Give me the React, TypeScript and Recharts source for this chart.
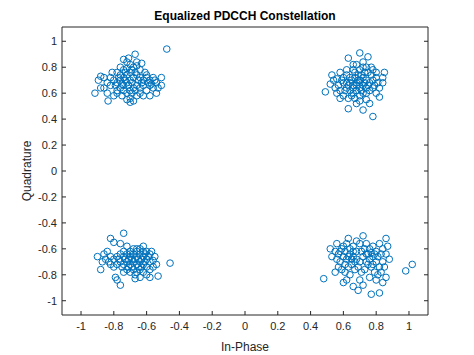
import { ScatterChart, Scatter, XAxis, YAxis } from 'recharts'

const xTicks = [-1, -0.8, -0.6, -0.4, -0.2, 0, 0.2, 0.4, 0.6, 0.8, 1]
const yTicks = [-1, -0.8, -0.6, -0.4, -0.2, 0, 0.2, 0.4, 0.6, 0.8, 1]

// symbols, [in-phase, quadrature]
const topLeft = [
  [-0.477, 0.94], [-0.915, 0.6], [-0.894, 0.7], [-0.86, 0.72], [-0.88, 0.64], [-0.84, 0.6], [-0.835, 0.54],
  [-0.8, 0.58], [-0.78, 0.62], [-0.82, 0.66], [-0.8, 0.7], [-0.78, 0.76], [-0.76, 0.8], [-0.74, 0.78],
  [-0.72, 0.84], [-0.71, 0.87], [-0.67, 0.9], [-0.66, 0.84], [-0.63, 0.83], [-0.64, 0.78], [-0.68, 0.8],
  [-0.7, 0.76], [-0.72, 0.74], [-0.74, 0.72], [-0.76, 0.7], [-0.78, 0.68], [-0.74, 0.66], [-0.72, 0.68],
  [-0.7, 0.7], [-0.68, 0.72], [-0.66, 0.74], [-0.64, 0.72], [-0.62, 0.7], [-0.6, 0.74], [-0.58, 0.7],
  [-0.56, 0.72], [-0.54, 0.68], [-0.51, 0.72], [-0.51, 0.66], [-0.54, 0.6], [-0.56, 0.64], [-0.58, 0.66],
  [-0.6, 0.62], [-0.62, 0.66], [-0.64, 0.64], [-0.66, 0.66], [-0.68, 0.64], [-0.7, 0.62], [-0.72, 0.6],
  [-0.74, 0.62], [-0.76, 0.64], [-0.7, 0.56], [-0.7, 0.53], [-0.68, 0.54], [-0.72, 0.55], [-0.66, 0.58],
  [-0.62, 0.58], [-0.64, 0.6], [-0.75, 0.58], [-0.79, 0.66], [-0.82, 0.72], [-0.84, 0.68], [-0.76, 0.74],
  [-0.73, 0.76], [-0.69, 0.78], [-0.67, 0.76], [-0.65, 0.7], [-0.63, 0.68], [-0.61, 0.76], [-0.59, 0.68],
  [-0.57, 0.67], [-0.69, 0.68], [-0.71, 0.66], [-0.73, 0.7], [-0.75, 0.67], [-0.77, 0.72], [-0.67, 0.62],
  [-0.69, 0.6], [-0.6, 0.72], [-0.55, 0.7], [-0.53, 0.64], [-0.58, 0.58], [-0.72, 0.79], [-0.66, 0.81],
  [-0.7, 0.82], [-0.78, 0.6], [-0.86, 0.64], [-0.88, 0.73], [-0.81, 0.76], [-0.74, 0.86],
]

const topRight = [
  [0.78, 0.42], [0.63, 0.48], [0.72, 0.47], [0.68, 0.52], [0.76, 0.52], [0.74, 0.55], [0.49, 0.61],
  [0.53, 0.74], [0.52, 0.67], [0.55, 0.64], [0.56, 0.71], [0.58, 0.76], [0.6, 0.72], [0.58, 0.62],
  [0.6, 0.58], [0.62, 0.64], [0.62, 0.68], [0.64, 0.72], [0.63, 0.87], [0.7, 0.91], [0.75, 0.88],
  [0.72, 0.84], [0.68, 0.82], [0.66, 0.78], [0.7, 0.78], [0.74, 0.8], [0.78, 0.78], [0.8, 0.76],
  [0.85, 0.76], [0.84, 0.72], [0.84, 0.68], [0.82, 0.64], [0.82, 0.57], [0.8, 0.6], [0.78, 0.64],
  [0.76, 0.68], [0.74, 0.7], [0.72, 0.72], [0.7, 0.7], [0.68, 0.68], [0.66, 0.66], [0.64, 0.62],
  [0.66, 0.6], [0.68, 0.62], [0.7, 0.64], [0.72, 0.66], [0.74, 0.64], [0.76, 0.62], [0.78, 0.7],
  [0.8, 0.72], [0.77, 0.74], [0.75, 0.76], [0.73, 0.76], [0.71, 0.74], [0.69, 0.74], [0.67, 0.72],
  [0.65, 0.7], [0.63, 0.66], [0.61, 0.62], [0.65, 0.58], [0.67, 0.56], [0.7, 0.58], [0.72, 0.6],
  [0.74, 0.6], [0.7, 0.68], [0.68, 0.66], [0.66, 0.64], [0.64, 0.68], [0.62, 0.74], [0.6, 0.68],
  [0.57, 0.66], [0.54, 0.7], [0.56, 0.6], [0.71, 0.62], [0.73, 0.68], [0.75, 0.66], [0.69, 0.7],
  [0.67, 0.76], [0.79, 0.66], [0.81, 0.68], [0.77, 0.8], [0.72, 0.8], [0.66, 0.82], [0.62, 0.78],
  [0.59, 0.7], [0.7, 0.54], [0.63, 0.56], [0.58, 0.56],
]

const bottomLeft = [
  [-0.457, -0.71], [-0.74, -0.48], [-0.82, -0.52], [-0.8, -0.55], [-0.76, -0.56], [-0.72, -0.58],
  [-0.7, -0.62], [-0.66, -0.6], [-0.64, -0.6], [-0.6, -0.62], [-0.58, -0.64], [-0.62, -0.58],
  [-0.9, -0.66], [-0.88, -0.76], [-0.86, -0.64], [-0.84, -0.62], [-0.85, -0.68], [-0.82, -0.66],
  [-0.8, -0.68], [-0.78, -0.66], [-0.76, -0.64], [-0.74, -0.66], [-0.72, -0.64], [-0.7, -0.66],
  [-0.68, -0.64], [-0.66, -0.66], [-0.64, -0.64], [-0.62, -0.66], [-0.6, -0.68], [-0.58, -0.7],
  [-0.56, -0.69], [-0.54, -0.72], [-0.56, -0.74], [-0.58, -0.76], [-0.6, -0.74], [-0.62, -0.72],
  [-0.64, -0.7], [-0.66, -0.72], [-0.68, -0.7], [-0.7, -0.72], [-0.72, -0.7], [-0.74, -0.72],
  [-0.76, -0.7], [-0.78, -0.72], [-0.8, -0.74], [-0.82, -0.72], [-0.79, -0.82], [-0.78, -0.84],
  [-0.76, -0.88], [-0.67, -0.83], [-0.53, -0.81], [-0.6, -0.8], [-0.62, -0.78], [-0.64, -0.76],
  [-0.66, -0.78], [-0.68, -0.76], [-0.7, -0.78], [-0.72, -0.76], [-0.74, -0.78], [-0.69, -0.68],
  [-0.67, -0.68], [-0.65, -0.68], [-0.63, -0.68], [-0.61, -0.7], [-0.59, -0.66], [-0.57, -0.62],
  [-0.55, -0.66], [-0.71, -0.68], [-0.73, -0.68], [-0.75, -0.74], [-0.77, -0.68], [-0.68, -0.6],
  [-0.65, -0.74], [-0.63, -0.74], [-0.61, -0.64], [-0.69, -0.74], [-0.71, -0.74], [-0.67, -0.8],
  [-0.64, -0.82], [-0.58, -0.82], [-0.87, -0.7], [-0.83, -0.7], [-0.62, -0.62], [-0.7, -0.64],
  [-0.66, -0.62], [-0.74, -0.62],
]

const bottomRight = [
  [0.98, -0.77], [1.02, -0.72], [0.48, -0.83], [0.86, -0.52], [0.72, -0.5], [0.63, -0.52], [0.77, -0.95],
  [0.82, -0.94], [0.69, -0.92], [0.66, -0.89], [0.72, -0.88], [0.6, -0.86], [0.55, -0.78], [0.53, -0.66],
  [0.52, -0.6], [0.56, -0.56], [0.58, -0.62], [0.6, -0.58], [0.62, -0.56], [0.64, -0.6], [0.66, -0.58],
  [0.68, -0.62], [0.7, -0.56], [0.74, -0.56], [0.76, -0.6], [0.78, -0.58], [0.8, -0.62], [0.82, -0.56],
  [0.84, -0.6], [0.86, -0.64], [0.88, -0.68], [0.84, -0.7], [0.82, -0.74], [0.8, -0.7], [0.78, -0.66],
  [0.76, -0.68], [0.74, -0.64], [0.72, -0.66], [0.7, -0.7], [0.68, -0.68], [0.66, -0.66], [0.64, -0.64],
  [0.62, -0.68], [0.6, -0.66], [0.58, -0.7], [0.56, -0.68], [0.57, -0.74], [0.59, -0.76], [0.61, -0.72],
  [0.63, -0.74], [0.65, -0.72], [0.67, -0.76], [0.69, -0.74], [0.71, -0.78], [0.73, -0.76], [0.75, -0.72],
  [0.77, -0.74], [0.79, -0.78], [0.81, -0.8], [0.83, -0.78], [0.85, -0.74], [0.8, -0.84], [0.76, -0.82],
  [0.7, -0.84], [0.64, -0.8], [0.62, -0.84], [0.86, -0.82], [0.84, -0.86], [0.66, -0.62], [0.63, -0.66],
  [0.61, -0.62], [0.77, -0.63], [0.79, -0.64], [0.81, -0.66], [0.75, -0.64], [0.65, -0.68], [0.67, -0.7],
  [0.59, -0.6], [0.57, -0.64], [0.55, -0.62], [0.71, -0.62], [0.73, -0.6], [0.87, -0.58], [0.83, -0.64],
  [0.68, -0.54], [0.61, -0.78], [0.74, -0.7], [0.78, -0.72],
]

const points = [...topLeft, ...topRight, ...bottomLeft, ...bottomRight].map(([x, y]) => ({ x, y }))

const font = '"Liberation Sans", Arial, Helvetica, sans-serif'
const axisColor = '#262626'
const markerColor = '#0072BD'

const ring = (props: any) => (
  <circle cx={props.cx} cy={props.cy} r={3.3} fill="none" stroke={markerColor} strokeWidth={1} />
)

export default function App() {
  const tickStyle = { fontSize: 11, fill: axisColor, fontFamily: font }
  const labelStyle = { fontSize: 12, fill: axisColor, fontFamily: font }
  return (
    <div style={{ position: 'absolute', left: 0, top: 0, width: 474, height: 355, background: '#fff' }}>
      <div
        style={{
          position: 'absolute', left: 62, top: 9, width: 366, textAlign: 'center',
          fontFamily: font, fontWeight: 'bold', fontSize: 12, lineHeight: '14px', color: '#000',
        }}
      >
        Equalized PDCCH Constellation
      </div>
      <ScatterChart width={474} height={355} margin={{ top: 26, right: 45, bottom: 0, left: 22 }}>
        <XAxis
          type="number" dataKey="x" xAxisId="b" domain={[-1.116, 1.116]} ticks={xTicks}
          allowDataOverflow height={40} stroke={axisColor} tickSize={-4} tickMargin={11}
          tick={tickStyle}
          label={{ value: 'In-Phase', position: 'insideBottom', offset: 4, style: labelStyle }}
        />
        <XAxis
          type="number" xAxisId="t" orientation="top" domain={[-1.116, 1.116]} ticks={xTicks}
          allowDataOverflow height={1} stroke={axisColor} tickSize={-4} tickFormatter={() => ''}
        />
        <YAxis
          type="number" dataKey="y" yAxisId="l" domain={[-1.11, 1.11]} ticks={yTicks}
          allowDataOverflow width={40} stroke={axisColor} tickSize={-4} tickMargin={9}
          tick={tickStyle}
          label={{ value: 'Quadrature', angle: -90, position: 'insideLeft', offset: 5, style: { ...labelStyle, textAnchor: 'middle' } }}
        />
        <YAxis
          type="number" yAxisId="r" orientation="right" domain={[-1.11, 1.11]} ticks={yTicks}
          allowDataOverflow width={1} stroke={axisColor} tickSize={-4} tickFormatter={() => ''}
        />
        <Scatter data={points} xAxisId="b" yAxisId="l" shape={ring} isAnimationActive={false} />
      </ScatterChart>
    </div>
  )
}
